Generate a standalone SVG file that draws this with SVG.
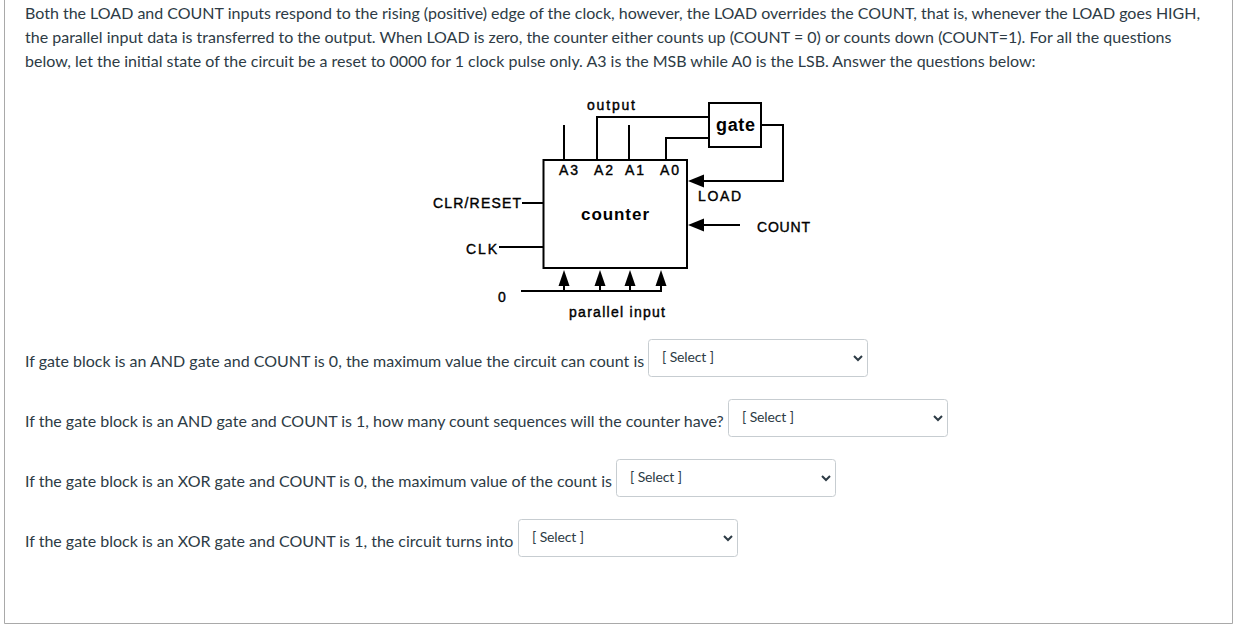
<svg xmlns="http://www.w3.org/2000/svg" width="1237" height="624" viewBox="0 0 1237 624">
<style>
.t{font-family:Lato,"Open Sans",sans-serif;font-size:16px;fill:#2d3b45}
.s{font-family:Lato,"Open Sans",sans-serif;font-size:14px;fill:#2d3b45}
.d{font-family:"Liberation Sans",Arial,sans-serif;font-size:14px;fill:#000;stroke:#000;stroke-width:.4}
.b{font-family:"Liberation Sans",Arial,sans-serif;font-size:18px;font-weight:bold;fill:#000}
.w{fill:none;stroke:#000;stroke-width:2}
.bx{fill:#fff;stroke:#000;stroke-width:2}
.sel{fill:#fff;stroke:#c7cdd1;stroke-width:1}
.ch{fill:none;stroke:#2d3b45;stroke-width:2}
</style>
<defs>
<polygon id="al" points="0,0 16,-6.500 16,6.500" fill="#000"/>
<polygon id="au" points="0,0 -5.500,16 5.500,16" fill="#000"/>
</defs>
<rect x="0" y="0" width="1237" height="624" fill="#fff"/>
<path d="M4.500 0V623.500H1232.500V0" fill="none" stroke="#a9a9a9" stroke-width="1"/>
<g id="intro">
<text class="t" x="25" y="19">Both the LOAD and COUNT inputs respond to the rising (positive) edge of the clock, however, the LOAD overrides the COUNT, that is, whenever the LOAD goes HIGH,</text>
<text class="t" x="25" y="43">the parallel input data is transferred to the output. When LOAD is zero, the counter either counts up (COUNT = 0) or counts down (COUNT=1). For all the questions</text>
<text class="t" x="25" y="67">below, let the initial state of the circuit be a reset to 0000 for 1 clock pulse only. A3 is the MSB while A0 is the LSB. Answer the questions below:</text>
</g>
<g id="connectors">
<path class="w" d="M564 125V160M597 160V117H709M629 125V160M666 160V138H709M761 125H783V181H700M740 225H700M522 203H543M499 247H543M521 291H662M564 285V291M600 285V291M630 285V291M661 285V291"/>
<use href="#al" x="688" y="181"/>
<use href="#al" x="688" y="225"/>
<use href="#au" x="564" y="270"/>
<use href="#au" x="600" y="270"/>
<use href="#au" x="630" y="270"/>
<use href="#au" x="661" y="270"/>
</g>
<g id="counter">
<rect class="bx" x="543.500" y="160" width="143.500" height="108"/>
<text class="d" x="559" y="175" textLength="19">A3</text>
<text class="d" x="594" y="175" textLength="19">A2</text>
<text class="d" x="625" y="175" textLength="19">A1</text>
<text class="d" x="660" y="175" textLength="19">A0</text>
<text class="b" x="581" y="220" style="font-size:17px" textLength="68">counter</text>
</g>
<g id="gate">
<rect class="bx" x="709" y="103" width="52" height="44"/>
<text class="b" x="716" y="130.500" textLength="39">gate</text>
</g>
<g id="labels">
<text class="d" x="587" y="110" textLength="48">output</text>
<text class="d" x="433" y="208" textLength="88">CLR/RESET</text>
<text class="d" x="466" y="254" textLength="31">CLK</text>
<text class="d" x="498" y="302">0</text>
<text class="d" x="698" y="201" textLength="43">LOAD</text>
<text class="d" x="757" y="232" textLength="53">COUNT</text>
<text class="d" x="569" y="317" textLength="96">parallel input</text>
</g>
<g id="q1">
<text class="t" x="25" y="367">If gate block is an AND gate and COUNT is 0, the maximum value the circuit can count is</text>
<rect class="sel" x="648.500" y="339.500" width="219" height="37" rx="3"/>
<text class="s" x="662" y="362" textLength="52">[ Select ]</text>
<path class="ch" d="M854 356L858 360L862 356"/>
</g>
<g id="q2">
<text class="t" x="25" y="427">If the gate block is an AND gate and COUNT is 1, how many count sequences will the counter have?</text>
<rect class="sel" x="728.500" y="399.500" width="219" height="37" rx="3"/>
<text class="s" x="742" y="422" textLength="52">[ Select ]</text>
<path class="ch" d="M934 416L938 420L942 416"/>
</g>
<g id="q3">
<text class="t" x="25" y="487">If the gate block is an XOR gate and COUNT is 0, the maximum value of the count is</text>
<rect class="sel" x="616.500" y="459.500" width="219" height="37" rx="3"/>
<text class="s" x="630" y="482" textLength="52">[ Select ]</text>
<path class="ch" d="M822 476L826 480L830 476"/>
</g>
<g id="q4">
<text class="t" x="25" y="547">If the gate block is an XOR gate and COUNT is 1, the circuit turns into</text>
<rect class="sel" x="518.500" y="519.500" width="219" height="37" rx="3"/>
<text class="s" x="532" y="542" textLength="52">[ Select ]</text>
<path class="ch" d="M724 536L728 540L732 536"/>
</g>
</svg>
